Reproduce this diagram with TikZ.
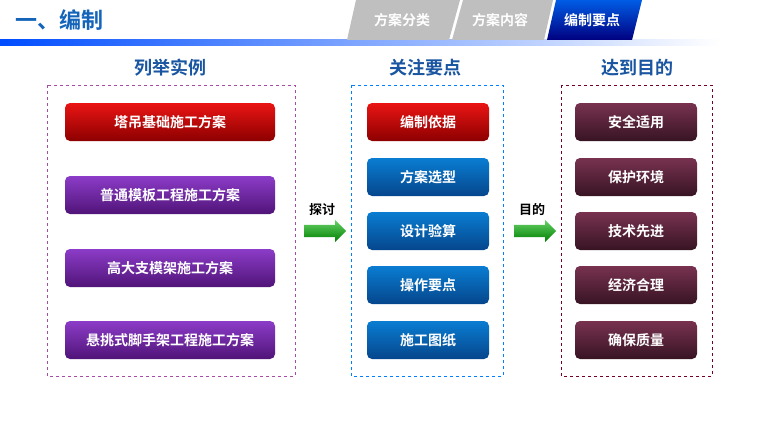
\documentclass[tikz,border=0pt]{standalone}
\usepackage{fontspec}
\setmainfont{Noto Sans CJK SC}[BoldFont={Noto Sans CJK SC Bold}]
\usetikzlibrary{positioning,shapes.arrows}
\tikzset{every picture/.style={line width=0.75pt}}
\definecolor{titleblue}{RGB}{20,100,185}
\definecolor{headblue}{RGB}{25,85,160}
\tikzset{
  btn/.style={rounded corners=5pt, minimum height=38pt, text=white, font=\bfseries\fontsize{14}{14}\selectfont, draw=none},
  redbtn/.style={btn, top color={rgb,255:red,235;green,20;blue,20}, bottom color={rgb,255:red,140;green,0;blue,0}},
  purplebtn/.style={btn, top color={rgb,255:red,140;green,60;blue,200}, bottom color={rgb,255:red,80;green,20;blue,120}},
  bluebtn/.style={btn, top color={rgb,255:red,10;green,125;blue,210}, bottom color={rgb,255:red,5;green,70;blue,140}},
  winebtn/.style={btn, top color={rgb,255:red,120;green,50;blue,80}, bottom color={rgb,255:red,55;green,20;blue,35}},
  framebox/.style={dashed, line width=0.9pt},
  head/.style={font=\bfseries\fontsize{18}{18}\selectfont, text=headblue},
  goarrow/.style={single arrow, draw=none, minimum height=42pt, minimum width=22pt, single arrow head extend=3pt, top color=green!70!black!60!white, bottom color=green!50!black},
  tab/.style={font=\bfseries\fontsize{14}{14}\selectfont, text=white}
}
\begin{document}
\begin{tikzpicture}[x=1pt,y=1pt,yscale=-1]
\useasboundingbox (0,0) rectangle (760,428);

% header
\shade[left color=blue!70!cyan, right color=white] (0,40) rectangle (720,46);
\node[anchor=west, font=\bfseries\fontsize{22}{22}\selectfont, text=titleblue] (title) at (12,20) {一、编制};
\fill[gray!50] (356,0) -- (460,0) -- (449,40) -- (347,40) -- cycle;
\fill[gray!50] (463,0) -- (553,0) -- (544,40) -- (452,40) -- cycle;
\shade[top color=blue!60!cyan!90!black, bottom color=blue!50!black] (556,0) -- (642,0) -- (632,40) -- (547,40) -- cycle;
\node[tab] (tab1) at (402,20) {方案分类};
\node[tab] (tab2) at (500,20) {方案内容};
\node[tab] (tab3) at (592,20) {编制要点};

% columns
\draw[framebox, violet!70!white] (47,85) rectangle (295,376);
\draw[framebox, blue!50!cyan] (351,85) rectangle (503,376);
\draw[framebox, purple!60!black] (561,85) rectangle (712,376);
\node[head] (h1) at (170,68) {列举实例};
\node[head] (h2) at (425,68) {关注要点};
\node[head] (h3) at (637,68) {达到目的};

% left
\node[redbtn, minimum width=210pt] (l1) at (170,122) {塔吊基础施工方案};
\node[purplebtn, minimum width=210pt] (l2) at (170,195) {普通模板工程施工方案};
\node[purplebtn, minimum width=210pt] (l3) at (170,268) {高大支模架施工方案};
\node[purplebtn, minimum width=210pt] (l4) at (170,340) {悬挑式脚手架工程施工方案};

% middle
\node[redbtn, minimum width=122pt] (m1) at (428,122) {编制依据};
\node[bluebtn, minimum width=122pt] (m2) at (428,177) {方案选型};
\node[bluebtn, minimum width=122pt] (m3) at (428,231) {设计验算};
\node[bluebtn, minimum width=122pt] (m4) at (428,285) {操作要点};
\node[bluebtn, minimum width=122pt] (m5) at (428,340) {施工图纸};

% right
\node[winebtn, minimum width=122pt] (r1) at (636,122) {安全适用};
\node[winebtn, minimum width=122pt] (r2) at (636,177) {保护环境};
\node[winebtn, minimum width=122pt] (r3) at (636,231) {技术先进};
\node[winebtn, minimum width=122pt] (r4) at (636,285) {经济合理};
\node[winebtn, minimum width=122pt] (r5) at (636,340) {确保质量};

% arrows
\node[goarrow] (a1) at (322,231) {};
\node[font=\bfseries\fontsize{13}{13}\selectfont, above=5pt of a1] (t1) {探讨};
\node[goarrow] (a2) at (532,231) {};
\node[font=\bfseries\fontsize{13}{13}\selectfont, above=5pt of a2] (t2) {目的};
\end{tikzpicture}
\end{document}
